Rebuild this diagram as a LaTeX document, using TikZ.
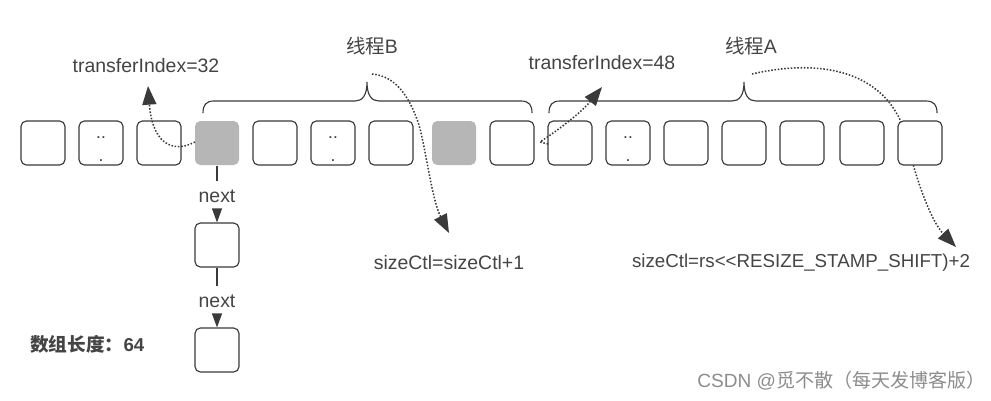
\documentclass[tikz,border=0pt]{standalone}
\usepackage{fontspec}
\setmainfont{Liberation Sans}[Ligatures=NoCommon]
\newfontfamily\cjk{Noto Sans CJK SC}
\usetikzlibrary{arrows.meta,positioning}
\definecolor{inkline}{HTML}{3A3A3A}
\definecolor{inktext}{HTML}{444444}
\definecolor{cellgray}{HTML}{B6B6B6}
\newcommand{\dotbody}{\raisebox{-4.9pt}[0pt][0pt]{..}\\[0.25pt]\raisebox{-4.9pt}[0pt][0pt]{.}}
\tikzset{
    cell/.style={draw=inkline,line width=0.85pt,rounded corners=4pt,minimum size=33pt,inner sep=0pt,fill=white},
    dotcell/.style={cell,align=center,font=\fontsize{13}{17}\selectfont,text=inkline},
    graycell/.style={cell,draw=none,fill=cellgray},
    lbl/.style={text=inktext,font=\fontsize{14.6}{17}\selectfont,inner sep=0pt},
    nextlbl/.style={lbl,inner ysep=6pt},
    bracket/.style={draw=inkline,line width=0.85pt},
    dotarrow/.style={draw=inkline,line width=1.15pt,dash pattern=on 1.15pt off 1.3pt,-{Stealth[length=14pt,width=10.5pt,inset=0pt]}},
    nextarrow/.style={draw=inkline,line width=0.85pt,-{Stealth[length=10.5pt,width=7.5pt,inset=0pt]}}
}

\begin{document}
\begin{tikzpicture}[x=0.75pt,y=-0.75pt]
    \useasboundingbox (0,0) rectangle (991,400);

    % Le pointille du fil A passe derriere les cases
    \coordinate (fromA) at (752,74);
    \coordinate (toA) at (956,247);
    \draw[dotarrow] (fromA) .. controls (830,56) and (895,76) .. (908,145)
        .. controls (915,175) and (930,220) .. (toA);

    % Les cases du tableau
    \foreach \name/\xpos/\kind/\body in {c1/43/cell/{},c2/101/dotcell/{\dotbody},c3/159/cell/{},c4/217/graycell/{},
        c5/275/cell/{},c6/333/dotcell/{\dotbody},c7/391/cell/{},c8/454/graycell/{},c9/512/cell/{},
        c10/570/cell/{},c11/628/dotcell/{\dotbody},c12/686/cell/{},c13/744/cell/{},c14/802/cell/{},
        c15/862/cell/{},c16/920/cell/{}}
        \node[\kind] (\name) at (\xpos,143) {\body};

    % La liste chainee
    \node[cell] (list1) at (217,245) {};
    \node[cell] (list2) at (217,350) {};
    \node[nextlbl] (next1) at (217,196) {next};
    \node[nextlbl] (next2) at (217,301) {next};
    \draw[bracket] (c4) -- (next1);
    \draw[nextarrow] (next1) -- (list1);
    \draw[bracket] (list1) -- (next2);
    \draw[nextarrow] (next2) -- (list2);

    % Les accolades
    \draw[bracket] (203,113) .. controls (203,105) and (206,101) .. (214,101) -- (355,101)
        .. controls (362,101) and (367,96) .. (367,82) .. controls (367,96) and (372,101) .. (379,101)
        -- (521,101) .. controls (529,101) and (532,105) .. (532,113);
    \draw[bracket] (549,113) .. controls (549,105) and (552,101) .. (560,101) -- (732,101)
        .. controls (739,101) and (744,96) .. (744,82) .. controls (744,96) and (749,101) .. (756,101)
        -- (926,101) .. controls (934,101) and (937,105) .. (937,113);

    % Les textes
    \node[lbl] (threadB) at (372,46) {{\cjk 线程}B};
    \node[lbl] (threadA) at (751,46) {{\cjk 线程}A};
    \node[lbl] (index32) at (146,66) {transferIndex=32};
    \node[lbl] (index48) at (602,63) {transferIndex=48};
    \node[lbl] (sizeB) at (449,263) {sizeCtl=sizeCtl+1};
    \node[lbl,font=\fontsize{14.05}{17}\selectfont] (sizeA) at (801,263) {sizeCtl=rs{<}{<}RESIZE\_STAMP\_SHIFT)+2};
    \node[lbl,anchor=west,font=\fontsize{14}{17}\selectfont\bfseries] (length) at (30,344) {{\cjk 数组长度：}64};
    \node[anchor=east,inner sep=0pt,text=black!45,font=\fontsize{14.3}{16}\selectfont] (mark) at (986,381) {CSDN @{\cjk 觅不散（每天发博客版）}};

    % Les fleches en pointille
    \coordinate (from32) at (195,142);
    \coordinate (to32) at (148,86);
    \coordinate (fromB) at (372,74);
    \coordinate (toB) at (449,233);
    \coordinate (tail48) at (548,144);
    \coordinate (from48) at (540,142);
    \coordinate (to48) at (602,87);
    \draw[dotarrow] (from32) .. controls (170,155) and (152,140) .. (to32);
    \draw[dotarrow] (fromB) .. controls (395,76) and (409,95) .. (419,125)
        .. controls (426,150) and (432,200) .. (toB);
    \draw[dotarrow] (tail48) -- (from48) .. controls (570,122) and (585,108) .. (to48);
\end{tikzpicture}
\end{document}
